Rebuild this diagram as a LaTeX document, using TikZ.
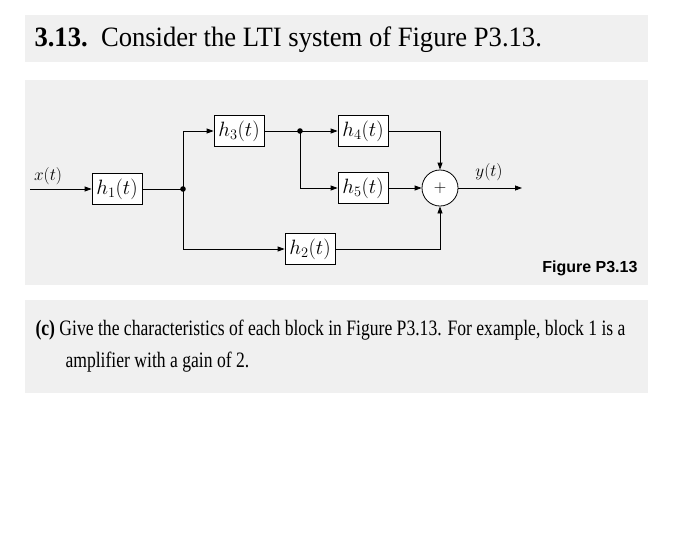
\documentclass[tikz,border=0pt]{standalone}
\usepackage{fontspec}
\setmainfont{Liberation Serif}
\newfontfamily\sansf{Liberation Sans}
\usetikzlibrary{arrows.meta}
\begin{document}
\begin{tikzpicture}[x=1pt,y=-1pt,
  blk/.style={draw,thick,fill=white,minimum width=50pt,minimum height=31pt,inner sep=0pt,font=\fontsize{20}{20}\selectfont},
  wire/.style={thick,-{Triangle[length=7pt,width=5pt]}},
  pl/.style={thick}]
\useasboundingbox (0,0) rectangle (700,536);
\fill[gray!12] (25,15) rectangle (648,62);
\fill[gray!12] (25,80) rectangle (648,285);
\fill[gray!12] (25,300) rectangle (648,393);
\node[anchor=west,font=\fontsize{28}{28}\selectfont\bfseries] (title) at (31,40) {\scalebox{0.95}[1]{3.13.\ \ \mdseries Consider the LTI system of Figure P3.13.}};
\node[blk] (h1) at (117,189) {$h_1(t)$};
\node[blk] (h3) at (239,131) {$h_3(t)$};
\node[blk] (h4) at (363,131) {$h_4(t)$};
\node[blk] (h5) at (363,188) {$h_5(t)$};
\node[blk] (h2) at (310,249) {$h_2(t)$};
\node[draw,thick,circle,fill=white,minimum size=36pt,inner sep=0pt,font=\fontsize{18}{18}\selectfont] (s) at (440,188) {$+$};
\node[font=\fontsize{19}{19}\selectfont] (x) at (48,176) {$x(t)$};
\node[font=\fontsize{19}{19}\selectfont] (y) at (489,172) {$y(t)$};
\coordinate (xin) at (30,189);
\coordinate (j1) at (183,189);
\coordinate (j2) at (300,131);
\coordinate (yout) at (522,188);
\fill (j1) circle (2.8pt);
\fill (j2) circle (2.8pt);
\draw[wire] (xin) -- (h1.west);
\draw[pl] (h1.east) -- (j1);
\draw[wire] (j1) |- (h3.west);
\draw[wire] (j1) |- (h2.west);
\draw[pl] (h3.east) -- (j2);
\draw[wire] (j2) -- (h4.west);
\draw[wire] (j2) |- (h5.west);
\draw[wire] (h4.east) -| (s.north);
\draw[wire] (h5.east) -- (s.west);
\draw[wire] (h2.east) -| (s.south);
\draw[wire] (s.east) -- (yout);
\node[anchor=east,font=\sansf\bfseries\fontsize{16}{16}\selectfont] (fig) at (641,268) {Figure P3.13};
\node[anchor=west,font=\fontsize{22}{22}\selectfont] (c1) at (32,330) {\scalebox{0.8}[1]{\textbf{(c)} Give the characteristics of each block in Figure P3.13. For example, block 1 is a}};
\node[anchor=west,font=\fontsize{22}{22}\selectfont] (c2) at (62,362) {\scalebox{0.8}[1]{amplifier with a gain of 2.}};
\end{tikzpicture}
\end{document}
